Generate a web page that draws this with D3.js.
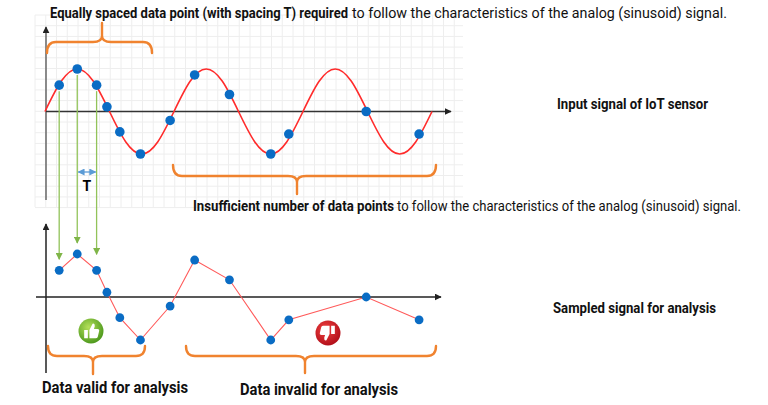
<!DOCTYPE html>
<html lang="en">
<head>
<meta charset="utf-8">
<title>Sampling</title>
<style>
  body { margin: 0; background: #fff; }
  svg { display: block; font-family: Roboto, "Noto Sans", sans-serif; }
</style>
</head>
<body>
<script src="https://d3js.org/d3.v7.min.js"></script>
<svg width="768" height="405"></svg>
<script>
// analog signal, read every 1/8 of a period (3 periods)
var curveT = [0, 0.125, 0.25, 0.375, 0.5, 0.625, 0.75, 0.875,
              1, 1.125, 1.25, 1.375, 1.5, 1.625, 1.75, 1.875,
              2, 2.125, 2.25, 2.375, 2.5, 2.625, 2.75, 2.875, 3];
var curveV = [0, 0.71, 1, 0.71, 0, -0.71, -1, -0.71,
              0, 0.71, 1, 0.71, 0, -0.71, -1, -0.71,
              0, 0.71, 1, 0.71, 0, -0.71, -1, -0.71, 0];

// sampled points (time in periods, value)
var sampleT = [0.11, 0.25, 0.40, 0.48, 0.58, 0.74, 0.97, 1.16, 1.43, 1.75, 1.89, 2.49, 2.90];
var sampleV = [0.62, 1.00, 0.62, 0.11, -0.48, -1.00, -0.21, 0.86, 0.40, -1.00, -0.53, 0.00, -0.53];

// samples that are dropped down to the lower plot with arrows
var arrowIdx = [0, 1, 2];

var svg = d3.select("svg");

var x = d3.scaleLinear().domain([0, 3]).range([45, 432]);
var yTop = d3.scaleLinear().domain([-1, 1]).range([154, 69]);
var yBot = d3.scaleLinear().domain([-1, 1]).range([340, 254]);

var defs = svg.append("defs");
function marker(id, color) {
  defs.append("marker").attr("id", id)
    .attr("viewBox", "0 0 10 10").attr("refX", 9).attr("refY", 5)
    .attr("markerWidth", 7).attr("markerHeight", 7).attr("orient", "auto-start-reverse")
    .attr("markerUnits", "userSpaceOnUse")
    .append("path").attr("d", "M0,0 L10,5 L0,10 Z").attr("fill", color);
}
marker("arrAxis", "#222");
marker("arrGreen", "#7fb548");
marker("arrBlue", "#5b9bd5");

var g1 = defs.append("radialGradient").attr("id", "gGreen").attr("cx", "40%").attr("cy", "35%").attr("r", "65%");
g1.append("stop").attr("offset", "0%").attr("stop-color", "#b5e05a");
g1.append("stop").attr("offset", "100%").attr("stop-color", "#4f9a1e");
var g2 = defs.append("radialGradient").attr("id", "gRed").attr("cx", "40%").attr("cy", "35%").attr("r", "65%");
g2.append("stop").attr("offset", "0%").attr("stop-color", "#f04040");
g2.append("stop").attr("offset", "100%").attr("stop-color", "#b3101a");

// background grid of the upper plot
var grid = svg.append("g").attr("stroke", "#eeeeee").attr("stroke-width", 1);
d3.range(35, 464, 10.75).forEach(function (gx) {
  grid.append("line").attr("x1", gx).attr("x2", gx).attr("y1", 15).attr("y2", 207);
});
d3.range(15, 208, 10.7).forEach(function (gy) {
  grid.append("line").attr("x1", 35).attr("x2", 463).attr("y1", gy).attr("y2", gy);
});

// axes
function axisLine(x1, y1, x2, y2, color) {
  svg.append("line").attr("x1", x1).attr("y1", y1).attr("x2", x2).attr("y2", y2)
    .attr("stroke", color).attr("stroke-width", 1.5).attr("marker-end", "url(#arrAxis)");
}
axisLine(46, 200, 46, 27, "#666");
axisLine(46, yTop(0), 451, yTop(0), "#333");
axisLine(46, 373, 46, 224, "#222");
axisLine(36, yBot(0), 441, yBot(0), "#222");

// analog sinusoid
var line = d3.line().x(function (d) { return x(d[0]); }).y(function (d) { return yTop(d[1]); })
  .curve(d3.curveNatural);
svg.append("path").datum(d3.zip(curveT, curveV))
  .attr("d", line).attr("fill", "none").attr("stroke", "#ff2b2b").attr("stroke-width", 1.6);

// sampled signal
var samples = d3.zip(sampleT, sampleV);
var lineBot = d3.line().x(function (d) { return x(d[0]); }).y(function (d) { return yBot(d[1]); });
svg.append("path").datum(samples)
  .attr("d", lineBot).attr("fill", "none").attr("stroke", "#ff5a5a").attr("stroke-width", 1.1);

// green drop lines
arrowIdx.forEach(function (i) {
  var d = samples[i];
  svg.append("line")
    .attr("x1", x(d[0])).attr("x2", x(d[0]))
    .attr("y1", yTop(d[1]) + 6).attr("y2", yBot(d[1]) - 11 - (i === 2 ? 5 : 0))
    .attr("stroke", "#92c35a").attr("stroke-width", 1.3).attr("marker-end", "url(#arrGreen)");
});

// spacing T
svg.append("line").attr("x1", x(sampleT[1]) + 1).attr("x2", x(sampleT[2]) - 1)
  .attr("y1", 172).attr("y2", 172)
  .attr("stroke", "#5b9bd5").attr("stroke-width", 1.3)
  .attr("marker-start", "url(#arrBlue)").attr("marker-end", "url(#arrBlue)");
svg.append("text").attr("x", (x(sampleT[1]) + x(sampleT[2])) / 2).attr("y", 191)
  .attr("text-anchor", "middle").attr("font-weight", "bold").attr("font-size", 14).text("T");

// dots
svg.append("g").selectAll("circle").data(samples).join("circle")
  .attr("cx", function (d) { return x(d[0]); }).attr("cy", function (d) { return yTop(d[1]); })
  .attr("r", 4.8).attr("fill", "#0a6cc4");
svg.append("g").selectAll("circle").data(samples).join("circle")
  .attr("cx", function (d) { return x(d[0]); }).attr("cy", function (d) { return yBot(d[1]); })
  .attr("r", 4.4).attr("fill", "#0a6cc4");

// curly braces
function brace(x1, x2, xm, yEnd, yFlat, yTip) {
  var r = 9, s = yTip < yFlat ? -1 : 1;
  return "M" + x1 + "," + yEnd +
    " Q" + x1 + "," + yFlat + " " + (x1 + r) + "," + yFlat +
    " L" + (xm - r) + "," + yFlat +
    " Q" + xm + "," + yFlat + " " + xm + "," + (yFlat + s * 6) +
    " L" + xm + "," + yTip +
    " M" + xm + "," + (yFlat + s * 6) +
    " Q" + xm + "," + yFlat + " " + (xm + r) + "," + yFlat +
    " L" + (x2 - r) + "," + yFlat +
    " Q" + x2 + "," + yFlat + " " + x2 + "," + yEnd;
}
var braces = [
  [47, 152, 102, 53, 42, 23],
  [173, 436, 297, 165, 176, 194],
  [48, 145, 93, 346, 356, 374],
  [186, 436, 305, 346, 356, 373]
];
svg.append("g").selectAll("path").data(braces).join("path")
  .attr("d", function (b) { return brace.apply(null, b); })
  .attr("fill", "none").attr("stroke", "#f0832f").attr("stroke-width", 2.4)
  .attr("stroke-linecap", "round");

// thumbs icons
var thumb = "M-1.5,-1 L1.5,-7 Q3.8,-7.8 3.6,-4.6 L2.8,-2 L6.2,-2 Q8.4,-1.8 7.6,0.6 L6.4,5.8 Q5.9,7 4.4,7 L-1.5,7 Z M-6.5,-1 L-3,-1 L-3,7 L-6.5,7 Z";
function icon(cx, cy, fill, rot) {
  var ig = svg.append("g").attr("transform", "translate(" + cx + "," + cy + ")");
  ig.append("circle").attr("r", 12.5).attr("fill", fill);
  ig.append("path").attr("d", thumb).attr("fill", "#fff")
    .attr("transform", "rotate(" + rot + ") scale(1.05)");
}
icon(91, 331, "url(#gGreen)", 0);
icon(328, 333, "url(#gRed)", 180);

// texts
function label(tx, ty, str, w, bold, size) {
  svg.append("text").attr("x", tx).attr("y", ty)
    .attr("font-size", size).attr("font-weight", bold ? "bold" : "normal")
    .attr("fill", "#111")
    .attr("textLength", w).attr("lengthAdjust", "spacingAndGlyphs")
    .text(str);
}
label(50, 17.5, "Equally spaced data point (with spacing T) required", 298, true, 14.2);
label(352, 17.5, "to follow the characteristics of the analog (sinusoid) signal.", 375, false, 14.2);
label(193, 210.5, "Insufficient number of data points", 201, true, 14.2);
label(397, 210.5, "to follow the characteristics of the analog (sinusoid) signal.", 344, false, 14.2);
label(557, 108.5, "Input signal of IoT sensor", 151, true, 14.2);
label(553, 312.5, "Sampled signal for analysis", 163, true, 14.2);
label(42, 393, "Data valid for analysis", 146, true, 16);
label(240, 395, "Data invalid for analysis", 158, true, 16);
</script>
</body>
</html>
